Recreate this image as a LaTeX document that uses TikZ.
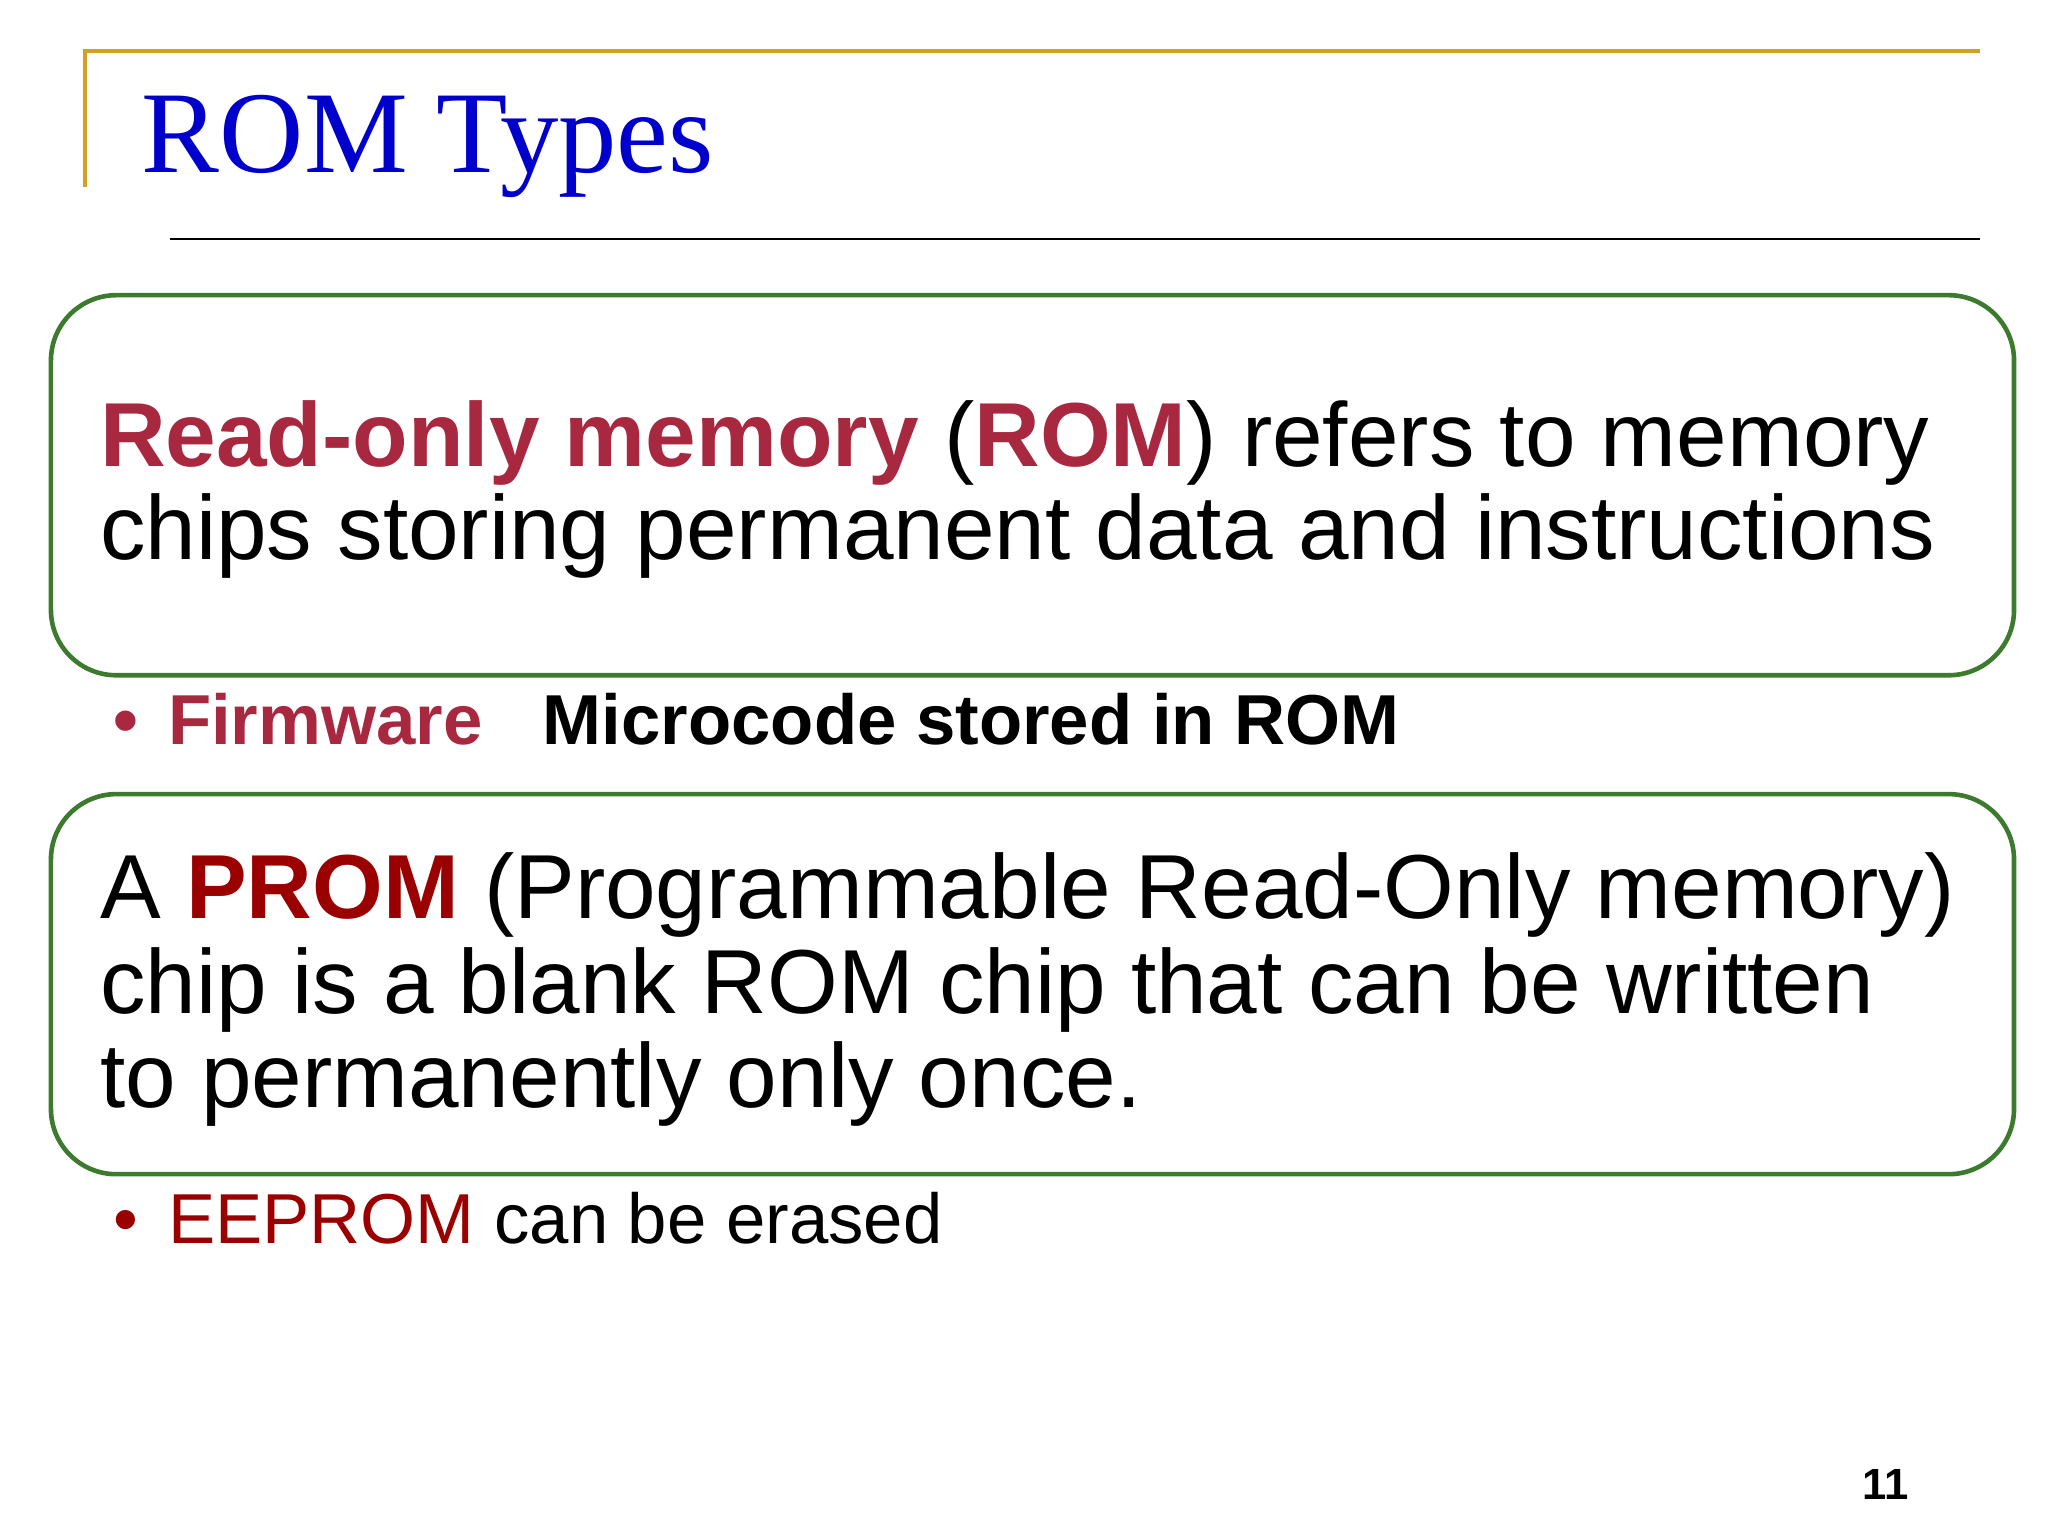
\documentclass[tikz,border=0pt]{standalone}
\usepackage{fontspec}
\setmainfont{Liberation Sans}
\newfontfamily\titlefont{Liberation Serif}
\definecolor{gold}{HTML}{D4A020}
\definecolor{boxgreen}{HTML}{3C7A2E}
\definecolor{crim}{HTML}{A8283F}
\definecolor{dred}{HTML}{9A0000}
\definecolor{tblue}{HTML}{0000CC}
\begin{document}
\begin{tikzpicture}[x=0.01cm,y=-0.01cm,
  txt/.style={anchor=base west,inner sep=0pt},
  rbox/.style={draw=boxgreen,line width=1pt,rounded corners=0.5cm}]
\useasboundingbox (0,0) rectangle (1568,1176);
\draw[gold,line width=0.9pt] (65,143) -- (65,39) -- (1516,39);
\node[txt,text=tblue,font=\titlefont\fontsize{25.4}{30}\selectfont] (title) at (108,132) {ROM Types};
\draw[line width=0.5pt] (130,183) -- (1516,183);
\draw[rbox] (39,226) rectangle (1542,517);
\node[txt,font=\fontsize{19.8}{24}\selectfont] (l1) at (76,357) {\textbf{\textcolor{crim}{Read-only memory}} (\textbf{\textcolor{crim}{ROM}}) refers to memory};
\node[txt,font=\fontsize{19.8}{24}\selectfont] (l2) at (76,428) {chips storing permanent data and instructions};
\node[txt,font=\bfseries\fontsize{15.4}{20}\selectfont] (b1) at (86,570) {\textcolor{crim}{\textbullet}};
\node[txt,font=\bfseries\fontsize{15.4}{20}\selectfont,text=crim] (fw) at (128,570) {Firmware};
\node[txt,font=\bfseries\fontsize{15.4}{20}\selectfont] (mc) at (415,570) {Microcode stored in ROM};
\draw[rbox] (39,608) rectangle (1542,899);
\node[txt,font=\fontsize{19.8}{26}\selectfont] (p1) at (76,703) {A \textbf{\textcolor{dred}{PROM}} (Programmable Read-Only memory)};
\node[txt,font=\fontsize{19.8}{26}\selectfont] (p2) at (76,776) {chip is a blank ROM chip that can be written};
\node[txt,font=\fontsize{19.8}{26}\selectfont] (p3) at (76,848) {to permanently only once.};
\node[txt,font=\fontsize{15.4}{20}\selectfont] (b2) at (86,952) {\textcolor{dred}{\textbullet}};
\node[txt,font=\fontsize{15.4}{20}\selectfont] (ee) at (128,952) {\textcolor{dred}{EEPROM} can be erased};
\node[txt,font=\bfseries\fontsize{9.5}{12}\selectfont] (pg) at (1425,1148) {11};
\end{tikzpicture}
\end{document}
